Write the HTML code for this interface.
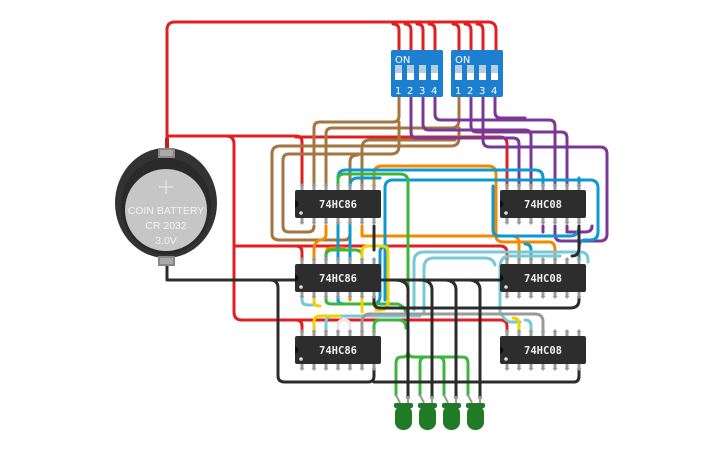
<!DOCTYPE html>
<html><head><meta charset="utf-8"><style>
html,body{margin:0;padding:0;background:#fff;}
svg{display:block}
.w{fill:none;stroke-width:3;stroke-linejoin:round;stroke-linecap:round}
.chip text{font-family:"DejaVu Sans Mono","Liberation Mono",monospace;font-size:10.5px;font-weight:bold;fill:#eee}
</style></head><body>
<svg width="725" height="453" viewBox="0 0 725 453" xmlns="http://www.w3.org/2000/svg">
<defs>
<g id="pinT"><rect x="-1.5" y="-5" width="3" height="5" fill="#999"/><path d="M-2.5,-4 L0,-7 L2.5,-4Z" fill="#999"/></g>
<g id="pinB"><rect x="-1.5" y="0" width="3" height="5" fill="#999"/><path d="M-2.5,4 L0,7 L2.5,4Z" fill="#999"/></g>
</defs>

<!-- Red wires -->
<g class="w" stroke="#e02020">
<path d="M167,140 V30 Q167,22 175,22 H488 Q496,22 496,30 V50"/>
<path d="M399,50 V30 Q399,24 393,24"/>
<path d="M411,50 V30 Q411,24 405,24"/>
<path d="M423,50 V30 Q423,24 417,24"/>
<path d="M435,50 V30 Q435,24 429,24"/>
<path d="M459,50 V30 Q459,24 453,24"/>
<path d="M471,50 V30 Q471,24 465,24"/>
<path d="M483,50 V30 Q483,24 477,24"/>
<path d="M167,136 H226 Q234,136 234,144 V312 Q234,320 242,320 H296 Q302,320 302,326 V332"/>
<path d="M226,136 H296 Q302,136 302,142 V186"/>
<path d="M296,137 H500 Q507,137 507,144 V186"/>
<path d="M236,246 H500 Q507,246 507,253 V260"/>
<path d="M296,246 Q302,246 302,252 V260"/>
<path d="M296,320 H500 Q507,320 507,326 V332"/>
</g>

<!-- Brown -->
<g class="w" stroke="#a5753f">
<path d="M399,97 V116 Q399,122 393,122 H320 Q314,122 314,128 V186"/>
<path d="M459,97 V120 Q459,128 451,128 H332 Q326,128 326,134 V186"/>
<path d="M459,128 V138 Q459,146 451,146 H280 Q272,146 272,154 V234 Q272,240 280,240 H344 Q350,240 350,234 V226"/>
<path d="M399,122 V146 Q399,154 391,154 H289 Q283,154 283,160 V226 Q283,232 289,232 H308 Q314,232 314,226"/>
<path d="M350,186 V162 Q350,155 358,155"/>
<path d="M362,186 V148 Q362,140 370,140 H455"/>
</g>

<!-- Purple -->
<g class="w" stroke="#7a3896">
<path d="M411,97 V132 Q411,138 417,138 H513 Q519,138 519,144 V186"/>
<path d="M423,97 V124 Q423,130 429,130 H525 Q531,130 531,136 V186"/>
<path d="M435,97 V114 Q435,120 441,120 H549 Q555,120 555,126 V186"/>
<path d="M471,97 V126 Q471,132 477,132 H561 Q567,132 567,138 V186"/>
<path d="M483,97 V140 Q483,147 490,147 H600 Q607,147 607,154 V234 Q607,241 600,241 H561 Q555,241 555,234 V226"/>
<path d="M495,97 V112 Q495,118 501,118 H525"/>
<path d="M567,226 V232 H585 Q592,232 592,226"/>
<path d="M543,226 V232"/>
</g>

<!-- Orange -->
<g class="w" stroke="#f08a00">
<path d="M374,186 V174 Q374,166 382,166 H488 Q496,166 496,174 V236 Q496,242 504,242 H549 Q555,242 555,250 V260"/>
<path d="M326,226 V234 Q326,240 320,240 H320 Q314,242 314,250 V260"/>
<path d="M362,226 V236 H512 Q519,236 519,244 V260"/>
<path d="M326,260 V254 Q326,248 332,248 H344"/>
<path d="M350,294 V300"/>
</g>

<!-- Blue -->
<g class="w" stroke="#0e98d2">
<path d="M338,260 V178 Q338,170 346,170 H535 Q543,170 543,178 V186"/>
<path d="M350,260 V186 Q350,178 358,178 H380"/>
<path d="M385,300 V188 Q385,180 393,180 H590 Q598,180 598,188 V232 Q598,240 590,240 H585 Q579,240 579,248 V260"/>
<path d="M493,186 V230 Q493,236 500,236 H570 Q579,236 579,226"/>
<path d="M579,186 V178"/>
<path d="M338,296 V300 Q338,304 345,304 H372 Q380,304 380,296 V252 Q380,246 388,246"/>
<path d="M531,260 V250 Q531,244 525,244"/>
</g>

<!-- Green -->
<g class="w" stroke="#3db53d">
<path d="M338,186 V180 Q338,174 344,174 H400 Q408,174 408,182 V352 Q408,357 403,357 H402 Q396,357 396,363 V395"/>
<path d="M408,352 Q408,357 414,357 H462 Q468,357 468,363 V395"/>
<path d="M420,395 V363 Q420,357 426,357"/>
<path d="M444,395 V363 Q444,357 438,357"/>
<path d="M326,260 V256 Q326,250 332,250 H355 Q362,250 362,256 V260"/>
<path d="M326,294 V300 Q326,304 332,304 H398 Q404,306 406,312"/>
<path d="M374,332 V326 Q374,320 380,320 H398 Q406,320 406,328"/>
</g>

<!-- Light blue -->
<g class="w" stroke="#79c8d6">
<path d="M302,294 V300 Q302,305 308,305 H313"/>
<path d="M374,294 V300"/>
<path d="M414,310 V262 Q414,252 424,252 H580 Q588,252 588,260 V262"/>
<path d="M424,312 V268 Q424,258 434,258 H485 Q493,258 495,265"/>
<path d="M520,322 H510 Q504,320 500,312 V268 Q500,256 510,256 H560"/>
<path d="M531,332 V326 Q531,320 525,320"/>
<path d="M326,332 V322 Q326,316 332,316 H420"/>
</g>

<!-- Yellow -->
<g class="w" stroke="#f5d000">
<path d="M362,260 V252 Q362,246 368,246 H382 Q388,246 388,252 V302 Q388,310 380,310 H376"/>
<path d="M314,294 V302 Q314,306 320,306"/>
<path d="M314,332 V322 Q314,316 320,316 H340"/>
<path d="M362,296 V312"/>
<path d="M519,332 V324 Q519,318 513,318"/>
</g>

<!-- Grey / white -->
<g class="w" stroke="#9a9a9a">
<path d="M362,332 V322 Q362,314 370,314 H535 Q543,314 543,322 V332"/>
</g>
<path d="M338,332 V326 Q338,320 344,320 Q350,320 350,326 V332" class="w" stroke="#e8e8e8"/>

<!-- Black -->
<g class="w" stroke="#2c2c2c">
<path d="M167,266 V280 H574 Q579,280 579,286"/>
<path d="M270,280 Q278,280 278,288 V376 Q278,382 285,382 H368 Q374,382 374,376 V368"/>
<path d="M374,382 H574 Q579,382 579,376 V368"/>
<path d="M374,296 V302 Q374,308 380,308 H570 Q579,308 579,300 V296"/>
<path d="M394,280 Q408,280 408,290 V398"/>
<path d="M420,280 Q432,280 432,290 V398"/>
<path d="M444,280 Q456,280 456,290 V398"/>
<path d="M468,280 Q480,280 480,290 V398"/>
<path d="M374,226 V250"/>
<path d="M579,226 V248 Q579,256 572,256"/>
</g>

<!-- Battery -->
<ellipse cx="166" cy="203" rx="51" ry="55" fill="#333"/>
<ellipse cx="166" cy="206" rx="45" ry="48" fill="#2a2a2a"/>
<circle cx="166" cy="210" r="41" fill="#c6c6c6"/>
<rect x="158" y="148" width="17" height="10" fill="#888"/>
<rect x="160" y="150" width="13" height="6" fill="#aaa"/>
<rect x="158" y="256" width="17" height="10" fill="#888"/>
<rect x="160" y="258" width="13" height="6" fill="#aaa"/>
<path d="M166,180 V194 M159,187 H173" stroke="#eee" stroke-width="1"/>
<g font-family="Liberation Sans, sans-serif" font-size="10.5" fill="#f2f2f2" text-anchor="middle">
<text x="166" y="214">COIN BATTERY</text>
<text x="166" y="229">CR 2032</text>
<text x="166" y="244">3.0V</text>
</g>
<rect x="165" y="138" width="4" height="10" fill="#c02020"/>

<!-- DIP switches -->
<g>
<rect x="391" y="50" width="52" height="47" rx="2" fill="#1c7fcf"/>
<rect x="451" y="50" width="52" height="47" rx="2" fill="#1c7fcf"/>
<g fill="#b5cfe0">
<rect x="395" y="65" width="7" height="15"/><rect x="407" y="65" width="7" height="15"/><rect x="419" y="65" width="7" height="15"/><rect x="431" y="65" width="7" height="15"/>
<rect x="455" y="65" width="7" height="15"/><rect x="467" y="65" width="7" height="15"/><rect x="479" y="65" width="7" height="15"/><rect x="491" y="65" width="7" height="15"/>
</g>
<g fill="#fff">
<rect x="395" y="73" width="7" height="7"/><rect x="407" y="73" width="7" height="7"/><rect x="419" y="73" width="7" height="7"/><rect x="431" y="73" width="7" height="7"/>
<rect x="455" y="73" width="7" height="7"/><rect x="467" y="73" width="7" height="7"/><rect x="479" y="73" width="7" height="7"/><rect x="491" y="73" width="7" height="7"/>
</g>
<g font-family="DejaVu Sans, sans-serif" font-size="10" fill="#fff">
<text x="395" y="63">ON</text><text x="455" y="63">ON</text>
<text x="395" y="94">1</text><text x="407" y="94">2</text><text x="419" y="94">3</text><text x="431" y="94">4</text>
<text x="455" y="94">1</text><text x="467" y="94">2</text><text x="479" y="94">3</text><text x="491" y="94">4</text>
</g>
</g>

<!-- Chips -->
<g class="chip">
<g transform="translate(295,190)">
 <g><use href="#pinT" x="7"/><use href="#pinT" x="19"/><use href="#pinT" x="31"/><use href="#pinT" x="43"/><use href="#pinT" x="55"/><use href="#pinT" x="67"/><use href="#pinT" x="79"/></g>
 <g transform="translate(0,28)"><use href="#pinB" x="7"/><use href="#pinB" x="19"/><use href="#pinB" x="31"/><use href="#pinB" x="43"/><use href="#pinB" x="55"/><use href="#pinB" x="67"/><use href="#pinB" x="79"/></g>
 <rect width="86" height="28" rx="2" fill="#2d2d2d"/><path d="M0,10.5 A3.5,3.5 0 0 1 0,17.5Z" fill="#111"/><circle cx="6" cy="23" r="1.8" fill="#ddd"/>
 <text x="43" y="18" text-anchor="middle">74HC86</text>
</g>
<g transform="translate(500,190)">
 <g><use href="#pinT" x="7"/><use href="#pinT" x="19"/><use href="#pinT" x="31"/><use href="#pinT" x="43"/><use href="#pinT" x="55"/><use href="#pinT" x="67"/><use href="#pinT" x="79"/></g>
 <g transform="translate(0,28)"><use href="#pinB" x="7"/><use href="#pinB" x="19"/><use href="#pinB" x="31"/><use href="#pinB" x="43"/><use href="#pinB" x="55"/><use href="#pinB" x="67"/><use href="#pinB" x="79"/></g>
 <rect width="86" height="28" rx="2" fill="#2d2d2d"/><path d="M0,10.5 A3.5,3.5 0 0 1 0,17.5Z" fill="#111"/><circle cx="6" cy="23" r="1.8" fill="#ddd"/>
 <text x="43" y="18" text-anchor="middle">74HC08</text>
</g>
<g transform="translate(295,264)">
 <g><use href="#pinT" x="7"/><use href="#pinT" x="19"/><use href="#pinT" x="31"/><use href="#pinT" x="43"/><use href="#pinT" x="55"/><use href="#pinT" x="67"/><use href="#pinT" x="79"/></g>
 <g transform="translate(0,28)"><use href="#pinB" x="7"/><use href="#pinB" x="19"/><use href="#pinB" x="31"/><use href="#pinB" x="43"/><use href="#pinB" x="55"/><use href="#pinB" x="67"/><use href="#pinB" x="79"/></g>
 <rect width="86" height="28" rx="2" fill="#2d2d2d"/><path d="M0,10.5 A3.5,3.5 0 0 1 0,17.5Z" fill="#111"/><circle cx="6" cy="23" r="1.8" fill="#ddd"/>
 <text x="43" y="18" text-anchor="middle">74HC86</text>
</g>
<g transform="translate(500,264)">
 <g><use href="#pinT" x="7"/><use href="#pinT" x="19"/><use href="#pinT" x="31"/><use href="#pinT" x="43"/><use href="#pinT" x="55"/><use href="#pinT" x="67"/><use href="#pinT" x="79"/></g>
 <g transform="translate(0,28)"><use href="#pinB" x="7"/><use href="#pinB" x="19"/><use href="#pinB" x="31"/><use href="#pinB" x="43"/><use href="#pinB" x="55"/><use href="#pinB" x="67"/><use href="#pinB" x="79"/></g>
 <rect width="86" height="28" rx="2" fill="#2d2d2d"/><path d="M0,10.5 A3.5,3.5 0 0 1 0,17.5Z" fill="#111"/><circle cx="6" cy="23" r="1.8" fill="#ddd"/>
 <text x="43" y="18" text-anchor="middle">74HC08</text>
</g>
<g transform="translate(295,336)">
 <g><use href="#pinT" x="7"/><use href="#pinT" x="19"/><use href="#pinT" x="31"/><use href="#pinT" x="43"/><use href="#pinT" x="55"/><use href="#pinT" x="67"/><use href="#pinT" x="79"/></g>
 <g transform="translate(0,28)"><use href="#pinB" x="7"/><use href="#pinB" x="19"/><use href="#pinB" x="31"/><use href="#pinB" x="43"/><use href="#pinB" x="55"/><use href="#pinB" x="67"/><use href="#pinB" x="79"/></g>
 <rect width="86" height="28" rx="2" fill="#2d2d2d"/><path d="M0,10.5 A3.5,3.5 0 0 1 0,17.5Z" fill="#111"/><circle cx="6" cy="23" r="1.8" fill="#ddd"/>
 <text x="43" y="18" text-anchor="middle">74HC86</text>
</g>
<g transform="translate(500,336)">
 <g><use href="#pinT" x="7"/><use href="#pinT" x="19"/><use href="#pinT" x="31"/><use href="#pinT" x="43"/><use href="#pinT" x="55"/><use href="#pinT" x="67"/><use href="#pinT" x="79"/></g>
 <g transform="translate(0,28)"><use href="#pinB" x="7"/><use href="#pinB" x="19"/><use href="#pinB" x="31"/><use href="#pinB" x="43"/><use href="#pinB" x="55"/><use href="#pinB" x="67"/><use href="#pinB" x="79"/></g>
 <rect width="86" height="28" rx="2" fill="#2d2d2d"/><path d="M0,10.5 A3.5,3.5 0 0 1 0,17.5Z" fill="#111"/><circle cx="6" cy="23" r="1.8" fill="#ddd"/>
 <text x="43" y="18" text-anchor="middle">74HC08</text>
</g>
</g>

<!-- LEDs -->
<g>
<g stroke="#999" stroke-width="2" fill="none">
<path d="M396,395 L400,403 M408,396 V403"/>
<path d="M420,395 L424,403 M432,396 V403"/>
<path d="M444,395 L448,403 M456,396 V403"/>
<path d="M468,395 L472,403 M480,396 V403"/>
</g>
<g fill="#217a26">
<rect x="394" y="403" width="19" height="5" rx="2"/><rect x="395" y="405" width="17" height="25" rx="8"/>
<rect x="418" y="403" width="19" height="5" rx="2"/><rect x="419" y="405" width="17" height="25" rx="8"/>
<rect x="442" y="403" width="19" height="5" rx="2"/><rect x="443" y="405" width="17" height="25" rx="8"/>
<rect x="466" y="403" width="19" height="5" rx="2"/><rect x="467" y="405" width="17" height="25" rx="8"/>
</g>
</g>
</svg>
</body></html>
